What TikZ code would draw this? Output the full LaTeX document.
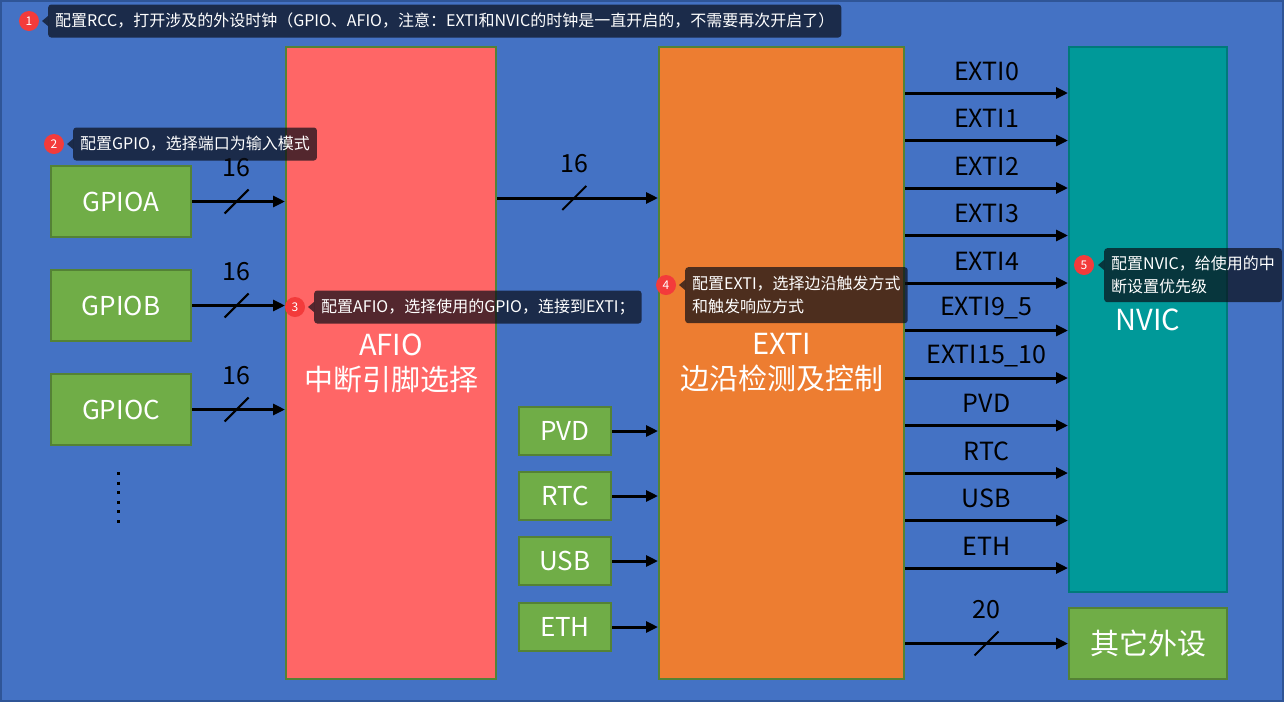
\documentclass[tikz,border=0pt]{standalone}
\usepackage{fontspec}
\setmainfont{Noto Sans CJK SC}
\usepackage{xcolor}
\usetikzlibrary{positioning,arrows.meta}
\definecolor{panelblue}{HTML}{4472C4}
\definecolor{paneledge}{HTML}{2F5597}
\definecolor{afiored}{HTML}{FF6666}
\definecolor{extiorange}{HTML}{ED7D31}
\definecolor{nvicteal}{HTML}{009999}
\definecolor{srcgreen}{HTML}{70AD47}
\definecolor{blockedge}{HTML}{548235}
\definecolor{notebg}{RGB}{10,13,23}
\definecolor{badgered}{HTML}{F33B3B}
\newcommand{\pxfont}[2]{\fontsize{#1}{#2}\selectfont}
\newcommand{\busmark}[2]{%
  \draw[slash] ([shift={(-12,12)}]#1) -- ([shift={(12,-12)}]#1);
  \node[buslbl] at ([shift={(0,-34)}]#1) {#2};}

\begin{document}
\begin{tikzpicture}[x=1pt, y=-1pt,
    every node/.style={font=\pxfont{25}{30}},
    block/.style={rectangle, draw=blockedge, line width=2pt, anchor=north west,
                  inner sep=0pt, text=white, align=center},
    big/.style={block, font=\pxfont{29}{35}},
    src/.style={block, fill=srcgreen, font=\pxfont{26}{30}},
    flow/.style={-{Triangle[length=12pt,width=11pt]}, line width=3pt},
    slash/.style={line width=2pt},
    buslbl/.style={font=\pxfont{25}{30}, inner sep=0pt},
    linelbl/.style={font=\pxfont{25}{30}, inner sep=0pt},
    note/.style={fill=notebg, fill opacity=.7, text opacity=1, text=white,
                 rounded corners=3pt, inner xsep=7pt, inner ysep=0pt,
                 minimum height=33pt, font=\pxfont{16}{23}, align=left},
    tip/.style={fill=notebg, fill opacity=.7},
    badge/.style={circle, fill=badgered, inner sep=0pt, minimum size=20pt,
                  text=white, font=\pxfont{12}{12}},
  ]
    \useasboundingbox (0,0) rectangle (1284,702);
    \draw[fill=panelblue, draw=paneledge, line width=2pt] (1,1) rectangle (1283,701);

    % main blocks
    \node[big, fill=afiored, minimum width=210pt, minimum height=632pt]    (afio)  at (285,46)  {AFIO\\中断引脚选择};
    \node[big, fill=extiorange, minimum width=245pt, minimum height=632pt] (exti)  at (658,46)  {EXTI\\边沿检测及控制};
    \node[big, fill=nvicteal, draw=nvicteal!80!black, minimum width=158pt, minimum height=545pt] (nvic) at (1068,46) {NVIC};
    \node[big, fill=srcgreen, minimum width=158pt, minimum height=71pt]    (other) at (1068,607) {其它外设};

    % sources
    \node[src, minimum width=140pt, minimum height=71pt] (gpa) at (50,165) {GPIOA};
    \node[src, minimum width=140pt, minimum height=71pt] (gpb) at (50,269) {GPIOB};
    \node[src, minimum width=140pt, minimum height=71pt] (gpc) at (50,373) {GPIOC};
    \draw[line width=3pt, dash pattern=on 3pt off 6.6pt] (118,472) -- (118,524);

    \node[src, minimum width=92pt, minimum height=48pt] (pvd) at (518,406) {PVD};
    \node[src, minimum width=92pt, minimum height=48pt] (rtc) at (518,471) {RTC};
    \node[src, minimum width=92pt, minimum height=48pt] (usb) at (518,536) {USB};
    \node[src, minimum width=92pt, minimum height=48pt] (eth) at (518,602) {ETH};

    % buses
    \draw[flow] (gpa.east) -- coordinate[pos=.48] (sa) (afio.west |- gpa.east);
    \draw[flow] (gpb.east) -- coordinate[pos=.48] (sb) (afio.west |- gpb.east);
    \draw[flow] (gpc.east) -- coordinate[pos=.48] (sc) (afio.west |- gpc.east);
    \draw[flow] (afio.east |- 0,198) -- coordinate[pos=.48] (sx) (exti.west |- 0,198);
    \draw[flow] (exti.east |- other.west) -- coordinate[pos=.5] (so) (other.west);
    \busmark{sa}{16}
    \busmark{sb}{16}
    \busmark{sc}{16}
    \busmark{sx}{16}
    \busmark{so}{20}

    \foreach \s in {pvd,rtc,usb,eth}
      \draw[flow] (\s.east) -- (exti.west |- \s.east);

    % EXTI lines to NVIC
    \foreach \lbl [count=\i from 0] in {EXTI0,EXTI1,EXTI2,EXTI3,EXTI4,EXTI9\_5,EXTI15\_10,PVD,RTC,USB,ETH} {
      \pgfmathsetmacro{\yy}{93+47.5*\i}
      \draw[flow] (exti.east |- 0,\yy) -- node[linelbl, midway, yshift=22pt] {\lbl} (nvic.west |- 0,\yy);
    }

    % callouts
    \node[badge] (b1) at (29,21) {1};
    \node[note, anchor=west] (n1) at (48,21)
      {配置RCC，打开涉及的外设时钟（GPIO、AFIO，注意：EXTI和NVIC的时钟是一直开启的，不需要再次开启了）};
    \fill[tip] (n1.west) ++(0,-5) -- ++(-6,5) -- ++(6,5) -- cycle;

    \node[badge] (b2) at (54,144) {2};
    \node[note, anchor=west] (n2) at (73,144) {配置GPIO，选择端口为输入模式};
    \fill[tip] (n2.west) ++(0,-5) -- ++(-6,5) -- ++(6,5) -- cycle;

    \node[badge] (b3) at (295,307) {3};
    \node[note, anchor=west] (n3) at (314,307) {配置AFIO，选择使用的GPIO，连接到EXTI；};
    \fill[tip] (n3.west) ++(0,-5) -- ++(-6,5) -- ++(6,5) -- cycle;

    \node[badge] (b4) at (666,285) {4};
    \node[note, anchor=north west, minimum height=56pt] (n4) at (685,267)
      {配置EXTI，选择边沿触发方式\\和触发响应方式};
    \fill[tip] (n4.north west) ++(0,13) -- ++(-6,5) -- ++(6,5) -- cycle;

    \node[badge] (b5) at (1084,265) {5};
    \node[note, anchor=north west, minimum height=54pt] (n5) at (1104,248)
      {配置NVIC，给使用的中\\断设置优先级};
    \fill[tip] (n5.north west) ++(0,12) -- ++(-6,5) -- ++(6,5) -- cycle;
  \end{tikzpicture}
\end{document}
